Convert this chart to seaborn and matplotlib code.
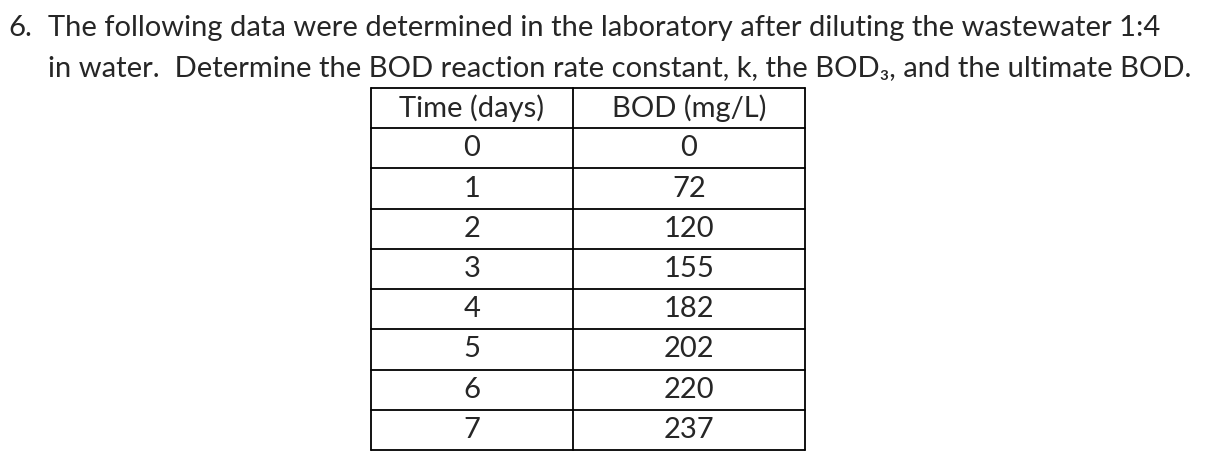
import matplotlib
matplotlib.use("Agg")
import matplotlib.pyplot as plt
import seaborn as sns

sns.set_style("white")
plt.rcParams['font.family'] = ['Lato', 'DejaVu Sans']

headers = ["Time (days)", "BOD (mg/L)"]
times = [0, 1, 2, 3, 4, 5, 6, 7]
bod = [0, 72, 120, 155, 182, 202, 220, 237]
line1 = "The following data were determined in the laboratory after diluting the wastewater 1:4"
line2 = "in water.  Determine the BOD reaction rate constant, k, the BOD₃, and the ultimate BOD."

W, H = 1224, 470
fig = plt.figure(figsize=(W/100, H/100), dpi=100)
fs = 21
fig.text(8/W, 1-28/H, "6.", fontsize=fs, va='center', ha='left')
fig.text(48/W, 1-28/H, line1, fontsize=fs, va='center', ha='left')
fig.text(48/W, 1-68/H, line2, fontsize=fs, va='center', ha='left')

L, R, T, B = 371, 805, 88, 450
ax = fig.add_axes([L/W, 1-B/H, (R-L)/W, (B-T)/H])
ax.set_xlim(0, R-L)
ax.set_ylim(9, 0)
ax.axis('off')
nrows = len(times) + 1
mid = 573 - L
for i in range(nrows + 1):
    ax.plot([0, R-L], [i, i], color='black', lw=1.3, clip_on=False)
for x in [0, mid, R-L]:
    ax.plot([x, x], [0, nrows], color='black', lw=1.3, clip_on=False)
c1, c2 = mid/2, (mid + R - L)/2
ax.text(c1, 0.5, headers[0], ha='center', va='center', fontsize=fs)
ax.text(c2, 0.5, headers[1], ha='center', va='center', fontsize=fs)
for i, (t, b) in enumerate(zip(times, bod)):
    ax.text(c1, i+1.5, str(t), ha='center', va='center', fontsize=fs)
    ax.text(c2, i+1.5, str(b), ha='center', va='center', fontsize=fs)

fig.savefig("out.png", dpi=100, facecolor='white')
